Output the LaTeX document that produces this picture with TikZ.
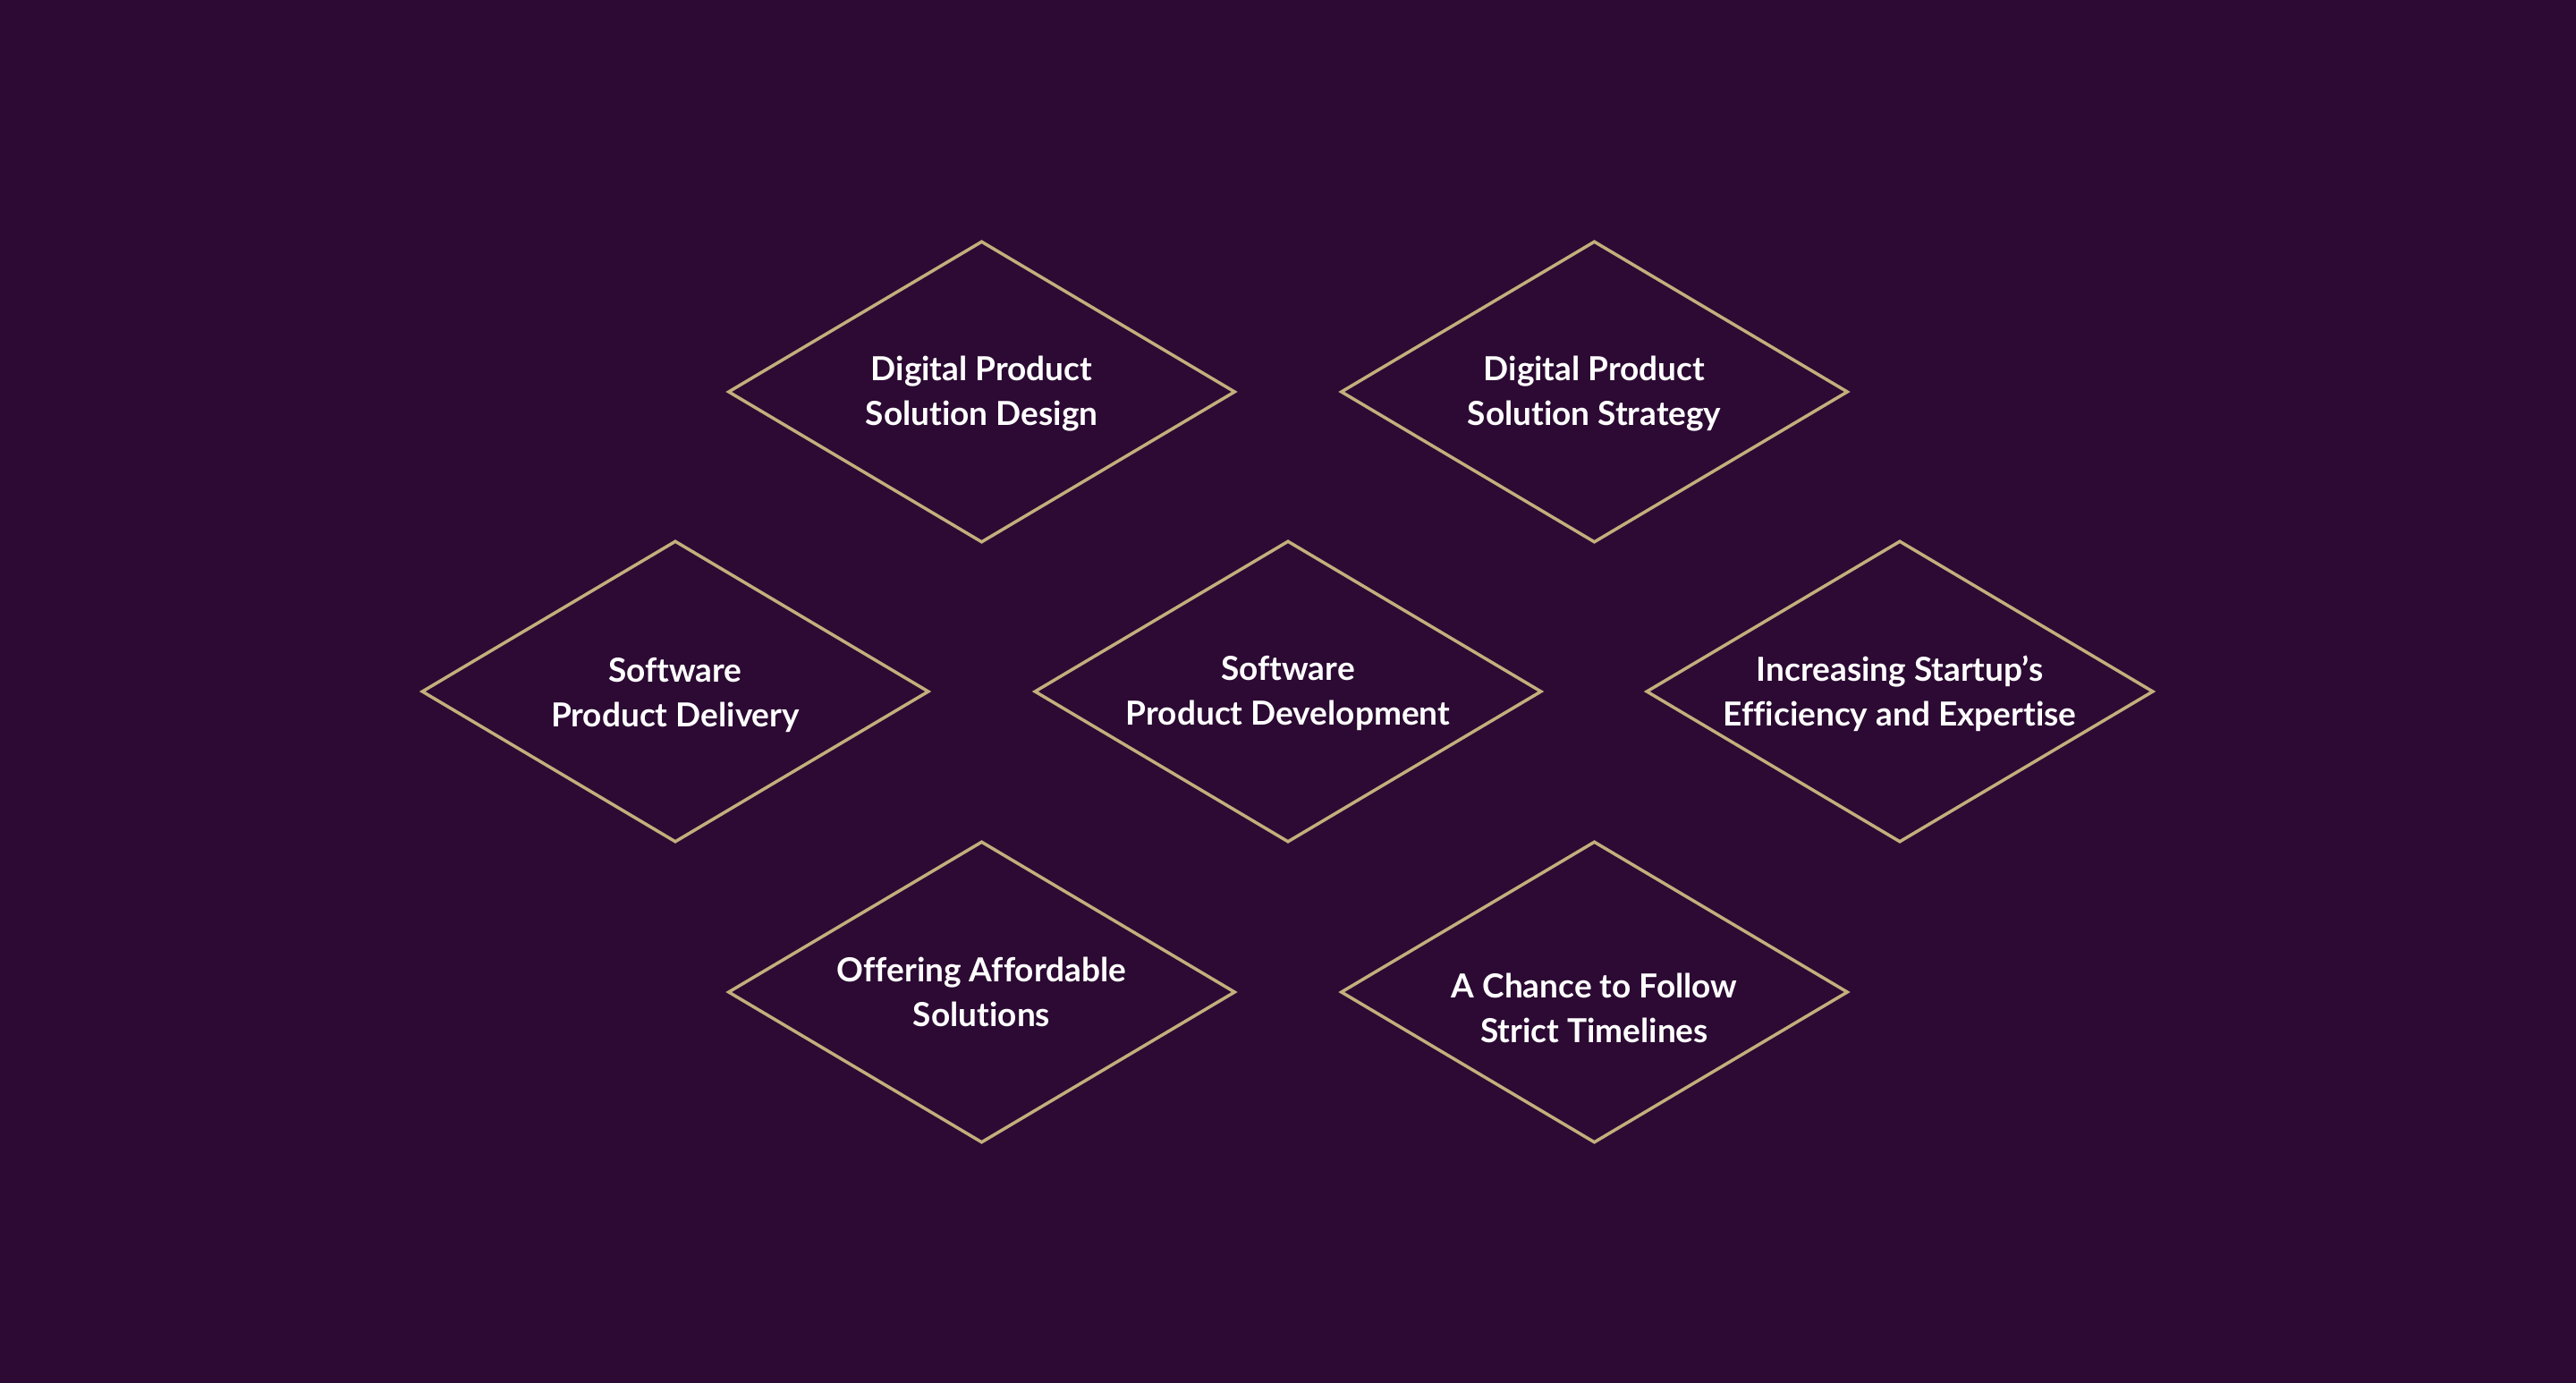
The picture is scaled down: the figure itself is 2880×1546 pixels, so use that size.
\documentclass[tikz,border=0pt]{standalone}
\usepackage{fontspec}
\setmainfont{Lato}[Ligatures=NoCommon]
\usetikzlibrary{shapes.geometric}
\definecolor{bgcol}{HTML}{2C0A33}
\definecolor{goldcol}{HTML}{C4AE7C}
\tikzset{
  dia/.style={shape=diamond, draw=goldcol, line width=3.5pt, minimum width=567pt, minimum height=337pt, inner sep=0pt},
  lbl/.style={text=white, align=center, font=\bfseries\fontsize{37}{50}\selectfont, inner sep=0pt}
}
\begin{document}
\begin{tikzpicture}[x=1pt,y=-1pt]
\fill[bgcol] (0,0) rectangle (2880,1546);
\useasboundingbox (0,0) rectangle (2880,1546);
\node[dia] (d1) at (1097.5,438) {};
\node[dia] (d2) at (1782.5,438) {};
\node[dia] (d3) at (755,773) {};
\node[dia] (d4) at (1440,773) {};
\node[dia] (d5) at (2124,773) {};
\node[dia] (d6) at (1097.5,1109) {};
\node[dia] (d7) at (1782.5,1109) {};
\node[lbl] (t1) at ([yshift=-2pt]d1.center) {Digital Product\\Solution Design};
\node[lbl] (t2) at ([yshift=-2pt]d2.center) {Digital Product\\Solution Strategy};
\node[lbl] (t3) at ([yshift=-4pt]d3.center) {Software\\Product Delivery};
\node[lbl] (t4) at ([yshift=-2pt]d4.center) {Software\\Product Development};
\node[lbl] (t5) at ([yshift=-2pt]d5.center) {Increasing Startup’s\\Efficiency and Expertise};
\node[lbl] (t6) at (d6.center) {Offering Affordable\\Solutions};
\node[lbl] (t7) at ([yshift=-18pt]d7.center) {A Chance to Follow\\Strict Timelines};
\end{tikzpicture}
\end{document}
